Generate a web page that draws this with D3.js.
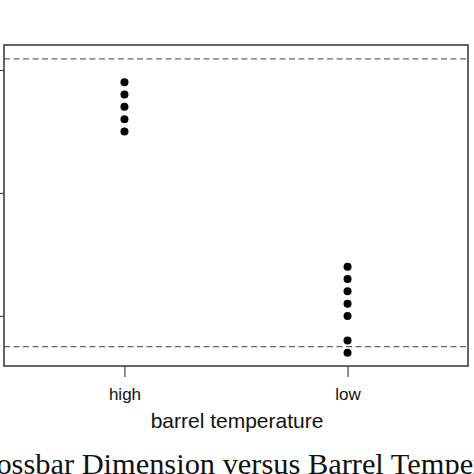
<!DOCTYPE html>
<html>
<head>
<meta charset="utf-8">
<script src="https://cdn.jsdelivr.net/npm/d3@7"></script>
<style>
  html, body { margin: 0; padding: 0; background: #fff; }
  svg { display: block; }
</style>
</head>
<body>
<svg id="chart" width="474" height="474"></svg>
<script>
// ---- data ----
const categories = ["high", "low"];
const highValues = [2.9, 2.8, 2.7, 2.6, 2.5];
const lowValues = [1.4, 1.3, 1.2, 1.1, 1.0, 0.8, 0.7];
const refLines = [3.09, 0.75];
const yTicks = [1, 2, 3];
const xLabel = "barrel temperature";
const title = "Crossbar Dimension versus Barrel Temperature";

(function () {
// ---- layout ----
const svg = d3.select("#chart");
const pl = 4, pr = 468, pt = 45, pb = 366;

const x = d3.scaleLinear().domain([0.46, 2.54]).range([pl, pr]);
const y = d3.scaleLinear().domain([0.593, 3.203]).range([pb, pt]);

// reference dashed lines
svg.selectAll("line.ref").data(refLines).enter().append("line")
  .attr("class", "ref")
  .attr("x1", pl).attr("x2", pr)
  .attr("y1", d => y(d)).attr("y2", d => y(d))
  .attr("stroke", "#666").attr("stroke-width", 1.3)
  .attr("stroke-dasharray", "6,3.5");

// points
const pts = [];
highValues.forEach(v => pts.push({c: 1, v}));
lowValues.forEach(v => pts.push({c: 2, v}));
svg.selectAll("circle.pt").data(pts).enter().append("circle")
  .attr("class", "pt")
  .attr("cx", d => x(d.c)).attr("cy", d => y(d.v))
  .attr("r", 4).attr("fill", "#000");

// box
svg.append("rect")
  .attr("x", pl).attr("y", pt)
  .attr("width", pr - pl).attr("height", pb - pt)
  .attr("fill", "none").attr("stroke", "#333").attr("stroke-width", 1.5);

// x axis
const xAxis = d3.axisBottom(x).tickValues([1, 2])
  .tickFormat((d, i) => categories[i]).tickSize(11).tickPadding(11);
const gx = svg.append("g").attr("transform", `translate(0,${pb})`).call(xAxis);
gx.select(".domain").remove();
gx.selectAll(".tick line").attr("stroke", "#444").attr("stroke-width", 1.2);
gx.selectAll(".tick text")
  .attr("font-family", "Liberation Sans, Arial, sans-serif")
  .attr("font-size", 17).attr("fill", "#111");

// y axis ticks (their labels lie outside the cropped view in the reference)
const yAxis = d3.axisLeft(y).tickValues(yTicks).tickSize(6).tickFormat("");
const gy = svg.append("g").attr("transform", `translate(${pl},0)`).call(yAxis);
gy.select(".domain").remove();
gy.selectAll(".tick line").attr("stroke", "#444").attr("stroke-width", 1.2);

// axis title
svg.append("text")
  .attr("x", 237).attr("y", 428)
  .attr("text-anchor", "middle")
  .attr("font-family", "Liberation Sans, Arial, sans-serif")
  .attr("font-size", 21).attr("fill", "#111")
  .text(xLabel);

// chart title
svg.append("text")
  .attr("x", 255).attr("y", 474)
  .attr("text-anchor", "middle")
  .attr("font-family", "Liberation Serif, Times New Roman, serif")
  .attr("font-size", 30.4).attr("fill", "#111")
  .text(title);
})();
</script>
</body>
</html>
